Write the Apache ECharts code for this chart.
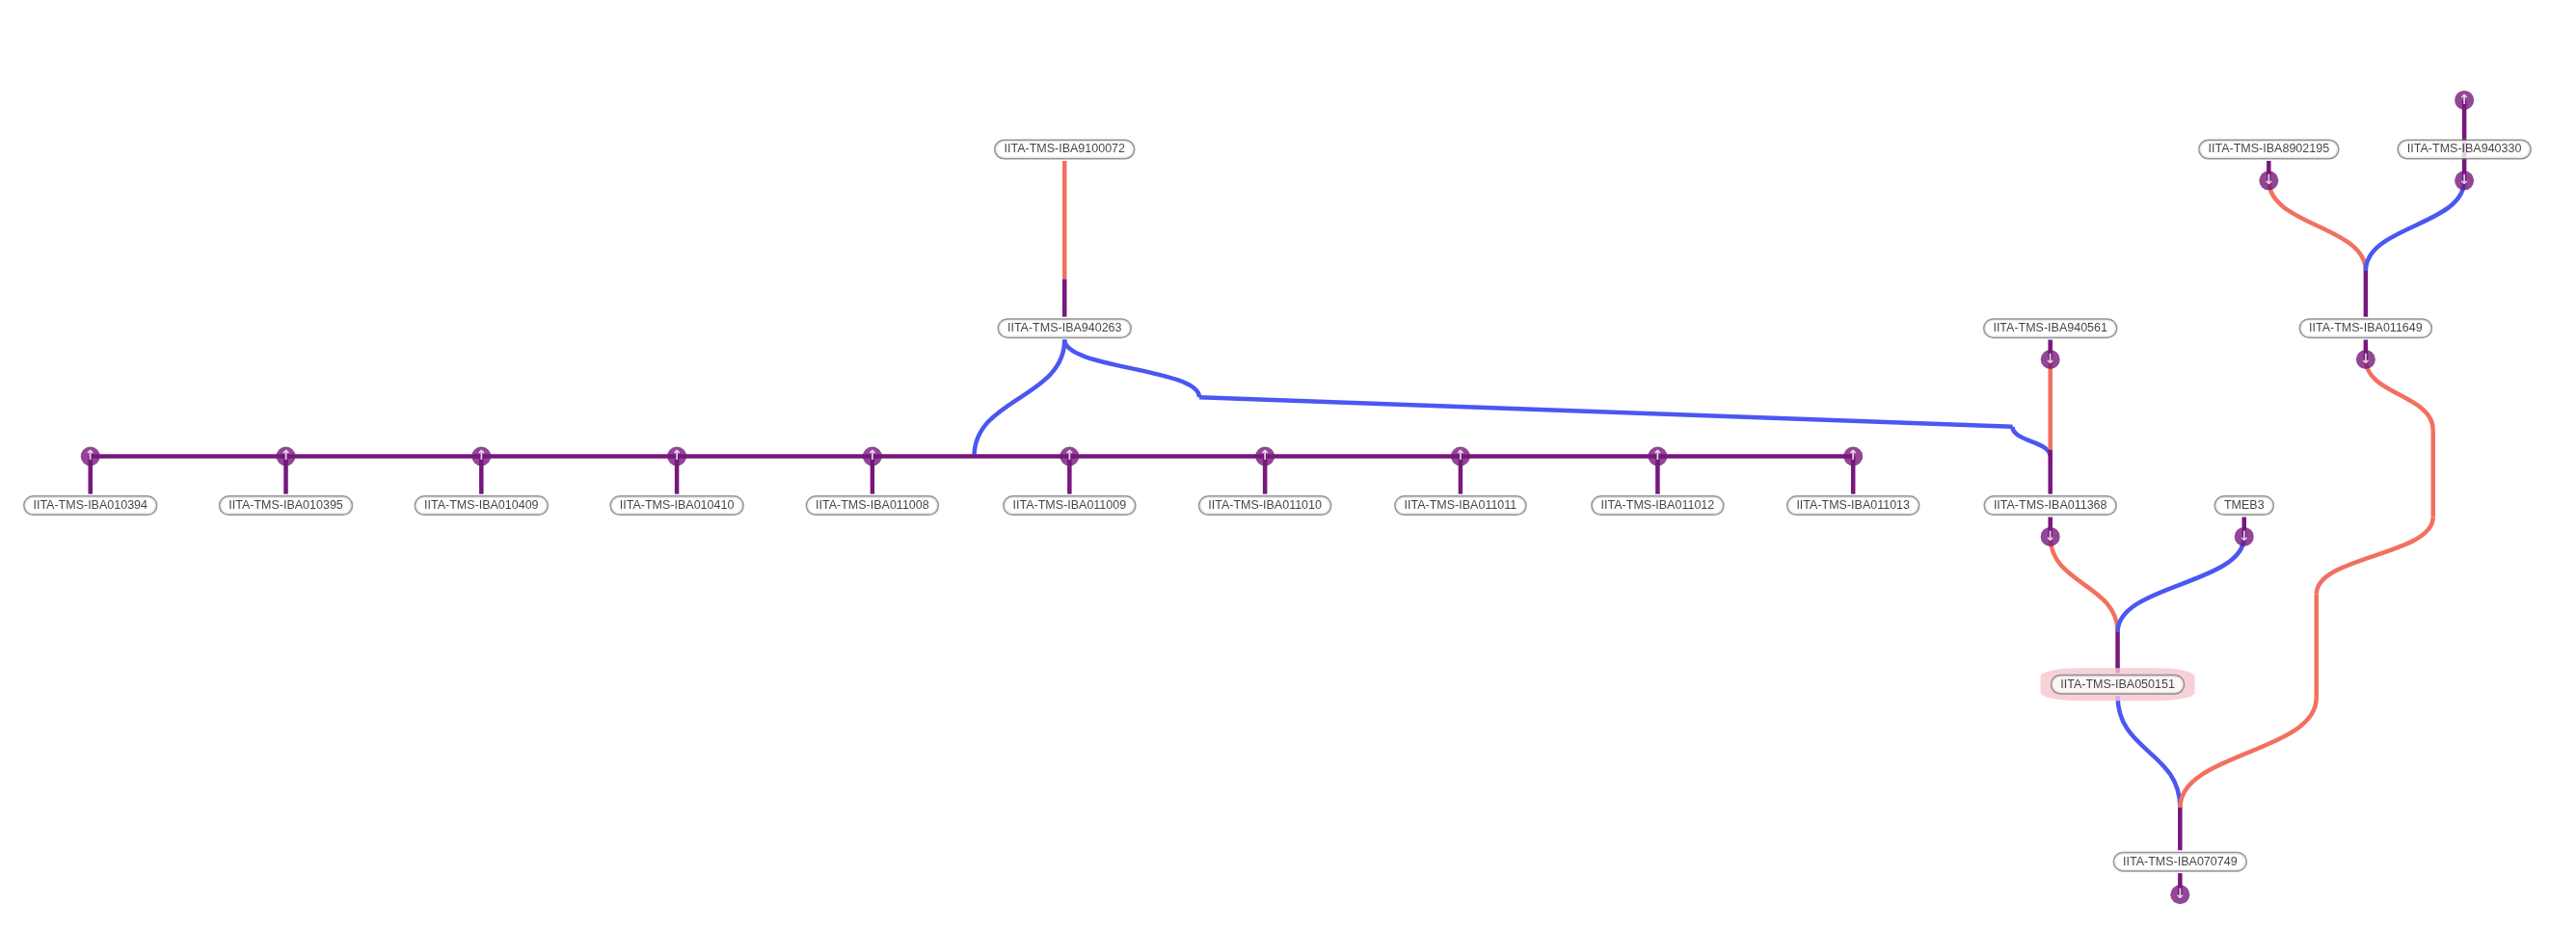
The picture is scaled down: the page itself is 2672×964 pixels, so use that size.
<!DOCTYPE html>
<html>
<head>
<meta charset="utf-8">
<script src="https://cdn.jsdelivr.net/npm/echarts@6/dist/echarts.min.js"></script>
<style>html,body{margin:0;background:#fff}#chart{width:2672px;height:964px}</style>
</head>
<body>
<div id="chart"></div>
<script>
var PURPLE = "#76187c", RED = "#f2705f", BLUE = "#4a57f2";

// pedigree entries: [name, layoutX, layoutY]
var accessions = [
  ["IITA-TMS-IBA9100072", 648, 91], ["IITA-TMS-IBA8902195", 1381, 91], ["IITA-TMS-IBA940330", 1500, 91],
  ["IITA-TMS-IBA940263", 648, 200], ["IITA-TMS-IBA940561", 1248, 200], ["IITA-TMS-IBA011649", 1440, 200],
  ["IITA-TMS-IBA010394", 55, 308], ["IITA-TMS-IBA010395", 174, 308], ["IITA-TMS-IBA010409", 293, 308],
  ["IITA-TMS-IBA010410", 412, 308], ["IITA-TMS-IBA011008", 531, 308], ["IITA-TMS-IBA011009", 651, 308],
  ["IITA-TMS-IBA011010", 770, 308], ["IITA-TMS-IBA011011", 889, 308], ["IITA-TMS-IBA011012", 1009, 308],
  ["IITA-TMS-IBA011013", 1128, 308], ["IITA-TMS-IBA011368", 1248, 308], ["TMEB3", 1366, 308],
  ["IITA-TMS-IBA050151", 1289, 417], ["IITA-TMS-IBA070749", 1327, 525]
];
var focusAccession = "IITA-TMS-IBA050151";
// expand buttons: [x, y, direction]
var upButtons = [[55, 278], [174, 278], [293, 278], [412, 278], [531, 278], [651, 278], [770, 278], [889, 278], [1009, 278], [1128, 278], [1500, 61]];
var downButtons = [[1381, 110], [1500, 110], [1248, 219], [1440, 219], [1248, 327], [1366, 327], [1327, 545]];
// links: [kind, x1, y1, x2, y2, colour]
var links = [
  ["line", 648, 98, 648, 170, RED], ["line", 648, 170, 648, 193, PURPLE],
  ["curve", 648, 207, 593, 278, BLUE],
  ["curve", 648, 207, 730, 242, BLUE], ["line", 730, 242, 1225, 260, BLUE], ["curve", 1225, 260, 1248, 278, BLUE],
  ["line", 1248, 219, 1248, 274, RED], ["line", 1248, 274, 1248, 301, PURPLE],
  ["line", 55, 278, 1128, 278, PURPLE],
  ["line", 55, 278, 55, 301, PURPLE], ["line", 174, 278, 174, 301, PURPLE], ["line", 293, 278, 293, 301, PURPLE],
  ["line", 412, 278, 412, 301, PURPLE], ["line", 531, 278, 531, 301, PURPLE], ["line", 651, 278, 651, 301, PURPLE],
  ["line", 770, 278, 770, 301, PURPLE], ["line", 889, 278, 889, 301, PURPLE], ["line", 1009, 278, 1009, 301, PURPLE],
  ["line", 1128, 278, 1128, 301, PURPLE],
  ["line", 1248, 207, 1248, 219, PURPLE], ["line", 1440, 207, 1440, 219, PURPLE],
  ["line", 1381, 98, 1381, 110, PURPLE], ["line", 1500, 61, 1500, 110, PURPLE],
  ["line", 1248, 315, 1248, 327, PURPLE], ["line", 1366, 315, 1366, 327, PURPLE],
  ["curve", 1248, 327, 1289, 385, RED], ["curve", 1366, 327, 1289, 385, BLUE], ["line", 1289, 385, 1289, 410, PURPLE],
  ["curve", 1381, 110, 1440, 165, RED], ["curve", 1500, 110, 1440, 165, BLUE], ["line", 1440, 165, 1440, 193, PURPLE],
  ["curve", 1289, 424, 1327, 492, BLUE], ["line", 1327, 492, 1327, 518, PURPLE],
  ["curve", 1440, 219, 1481, 262, RED], ["line", 1481, 262, 1481, 315, RED],
  ["curve", 1481, 315, 1410, 362, RED], ["line", 1410, 362, 1410, 425, RED],
  ["curve", 1410, 425, 1327, 492, RED],
  ["line", 1327, 532, 1327, 545, PURPLE]
];

var chart = echarts.init(document.getElementById("chart"));
var btn = function (pts, glyph) {
  return pts.map(function (p) { return { value: p, label: { formatter: glyph } }; });
};
chart.setOption({
  animation: false,
  grid: { left: 0, right: 0, top: 0, bottom: 0 },
  xAxis: { type: "value", min: 0, max: 1568, show: false },
  yAxis: { type: "value", min: 0, max: 566, inverse: true, show: false },
  series: [
    {
      type: "custom",
      data: links.map(function (l) { return [l[1], l[2], l[3], l[4]]; }),
      renderItem: function (params, api) {
        var l = links[params.dataIndex];
        var a = api.coord([l[1], l[2]]), b = api.coord([l[3], l[4]]);
        var style = { stroke: l[5], lineWidth: 4.5, fill: null };
        if (l[0] === "line") {
          return { type: "line", shape: { x1: a[0], y1: a[1], x2: b[0], y2: b[1] }, style: style };
        }
        var my = (a[1] + b[1]) / 2;
        return {
          type: "bezierCurve",
          shape: { x1: a[0], y1: a[1], cpx1: a[0], cpy1: my, cpx2: b[0], cpy2: my, x2: b[0], y2: b[1] },
          style: style
        };
      },
      z: 1
    },
    {
      type: "scatter",
      symbol: "roundRect",
      symbolSize: [160, 34],
      itemStyle: { color: "#f5c6cc" },
      data: accessions.filter(function (a) { return a[0] === focusAccession; }).map(function (a) { return [a[1], a[2]]; }),
      z: 2
    },
    {
      type: "scatter",
      symbol: "circle",
      symbolSize: 20,
      itemStyle: { color: PURPLE },
      label: { show: true, position: "inside", color: "#fff", fontSize: 14, fontWeight: "bold", fontFamily: "DejaVu Sans" },
      data: btn(upButtons, "↑").concat(btn(downButtons, "↓")),
      z: 3
    },
    {
      type: "scatter",
      symbolSize: 0,
      data: accessions.map(function (a) { return { name: a[0], value: [a[1], a[2]] }; }),
      label: {
        show: true,
        position: "inside",
        formatter: "{b}",
        color: "#111",
        fontSize: 12.5,
        fontFamily: "Liberation Sans",
        backgroundColor: "#fff",
        borderColor: "#7a7a7a",
        borderWidth: 1.5,
        borderRadius: 10,
        padding: [3, 9, 2, 9]
      },
      z: 4
    }
  ]
});
</script>
</body>
</html>
